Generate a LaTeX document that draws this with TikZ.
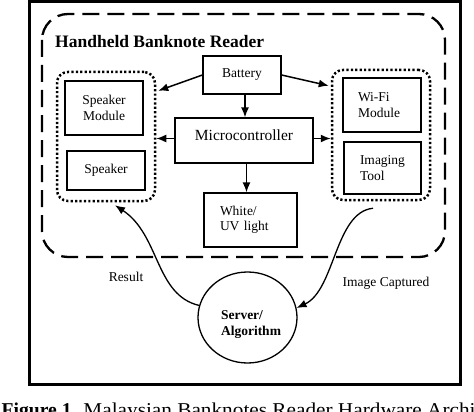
\documentclass[tikz,border=0pt]{standalone}
\usepackage{fontspec}
\setmainfont{Liberation Serif}
\newfontfamily\capfont[FakeStretch=1.085]{Liberation Serif}
\usetikzlibrary{calc,arrows.meta,shapes.geometric}
\begin{document}
\begin{tikzpicture}[x=1pt,y=-1pt,
  box/.style={draw, line width=1.2pt, inner sep=0pt, font=\fontsize{13.5}{15.5}\selectfont},
  grp/.style={draw, line width=2.5pt, dash pattern=on 2.2pt off 2.2pt, rounded corners=11pt, inner sep=0pt},
  arr/.style={line width=1.5pt, -{Latex[length=10pt,width=8pt]}},
  lbl/.style={font=\fontsize{13.5}{15.5}\selectfont, inner sep=0pt}]
\clip (0,0) rectangle (474,412);
% outer frame
\draw[line width=3pt] (29,1.5) rectangle (460,384);
% dashed device outline
\draw[line width=2.3pt, dash pattern=on 17pt off 8pt, rounded corners=26pt] (42,14) rectangle (445,257);
\node[anchor=west, inner sep=0pt, font=\fontsize{17.5}{20}\selectfont\bfseries] (title) at (55,42) {Handheld Banknote Reader};
% groups
\node[grp, minimum width=98pt, minimum height=129pt] (lg) at (106,136.5) {};
\node[grp, minimum width=98pt, minimum height=130pt] (rg) at (381,135) {};
% boxes
\node[box, minimum width=78pt, minimum height=38pt] (bat) at (242,75) {Battery};
\node[box, minimum width=138pt, minimum height=45pt, font=\fontsize{15.5}{17}\selectfont, text height=10.5pt, text depth=10.5pt] (mc) at (244,140.5) {Microcontroller};
\node[box, minimum width=93pt, minimum height=54pt, align=left, text width=61pt, inner xsep=16pt] (wl) at (250.5,220) {White/\\UV light};
\node[box, minimum width=78pt, minimum height=54pt, align=center] (sm) at (104,108) {Speaker\\Module};
\node[box, minimum width=78pt, minimum height=39pt] (sp) at (106,170.5) {Speaker};
\node[box, minimum width=78pt, minimum height=54pt, align=left, text width=48pt, inner xsep=15pt] (wf) at (382,105) {Wi-Fi\\Module};
\node[box, minimum width=77pt, minimum height=52pt, align=left, text width=45pt, inner xsep=16pt] (it) at (382.5,168) {Imaging\\Tool};
% server
\node[draw, ellipse, line width=1.3pt, minimum width=99pt, minimum height=91pt, inner sep=0pt] (srv) at (247.5,317.5) {};
\node[lbl, align=left, font=\fontsize{13.5}{15.5}\selectfont\bfseries] (srvt) at (251,324.5) {Server/\\Algorithm};
% helper coordinates
\coordinate (bs) at ($(bat.south)+(3,0)$);
\coordinate (mw) at ($(mc.west)+(0,-2)$);
\coordinate (me) at ($(mc.east)+(0,-2)$);
\coordinate (ms) at ($(mc.south)+(2.5,0)$);
\coordinate (lgt) at ($(lg.north east)+(2,20)$);
\coordinate (rgt) at ($(rg.north west)+(-2,17)$);
\coordinate (lgb) at ($(lg.south)+(9,3)$);
\coordinate (rgb) at ($(rg.south)+(-8,7)$);
% arrows
\draw[arr] (bat.west) -- (lgt);
\draw[arr] (bat.east) -- (rgt);
\draw[arr] (bs) -- (bs |- mc.north);
\draw[arr] (mw) -- (mw -| lg.east);
\draw[arr] (me) -- (me -| rg.west);
\draw[arr] (ms) -- (ms |- wl.north);
% curved arrows
\draw[arr, line width=1.3pt] (srv.166) .. controls (155,295) and (160,235) .. (lgb);
\draw[arr, line width=1.3pt] (rgb) .. controls (335,212) and (335,290) .. (srv.11);
\node[lbl] (res) at (126,277) {Result};
\node[lbl] (img) at (386,283) {Image Captured};
% caption
\node[anchor=base west, inner sep=0pt, font=\fontsize{19.6}{22}\selectfont] (cap) at (1.5,416.5) {\textbf{Figure 1.}\hspace{7pt}{\capfont Malaysian Banknotes Reader Hardware Architecture}};
\end{tikzpicture}
\end{document}
